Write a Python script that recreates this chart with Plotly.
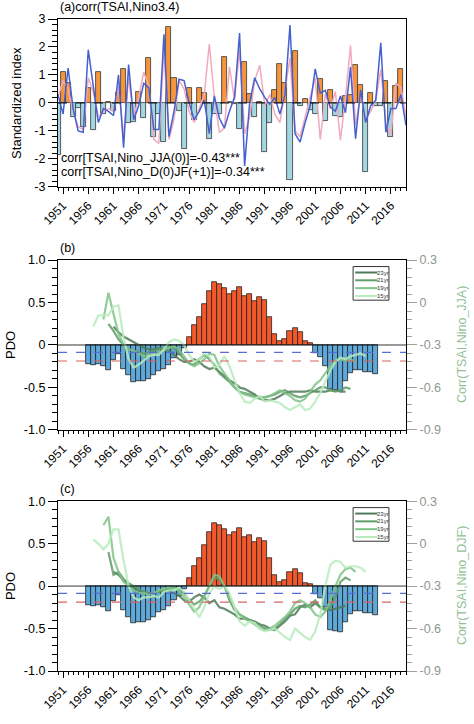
import plotly.graph_objects as go

# ---------------- data ----------------
years_a = list(range(1950, 2019))
tsai = [-1.85, 1.1, 0.72, -0.5, -0.18, -0.87, 0.55, -0.95, 1.12, -0.38,
        0.05, -0.3, 0.35, 1.22, -0.72, -0.68, 0.4, -0.52, 1.6, -1.2,
        -0.38, -1.38, 2.72, 0.9, -0.3, -1.65, 0.55, -0.6, 0.52, 0.35,
        -1.3, -0.38, -0.4, 1.65, 0.04, -0.02, -0.93, 1.45, 0.32, -0.5,
        0.03, -1.75, -0.7, 0.45, 1.38, 0.7, -2.75, 1.84, -0.1, 0.15,
        -0.25, -0.4, 0.85, -0.65, 0.48, -0.45, -0.5, 0.25, 0.3, 1.35,
        0.65, -2.45, 0.35, -0.1, -0.1, 0.8, -1.2, 0.6, 1.22]

years_line = list(range(1950, 2020))
nino_jja = [0.3, -0.4, 1.25, -0.2, -1.0, -1.05, 1.9, 0.6, -0.7, -0.2,
            -0.3, -0.45, 1.0, -1.6, 1.37, -0.6, -0.1, 0.7, 0.55, -0.95,
            -0.95, 2.45, -1.2, -0.3, 0.85, 0.8, 0.0, -0.6, -0.3, 0.1,
            -1.1, 0.25, -0.55, -0.9, -0.3, 0.2, 2.5, -2.25, 0.0, 0.9,
            0.5, 0.2, -0.05, 0.2, -0.4, 0.3, 2.78, -1.1, -1.4, -0.7,
            -0.1, 1.22, 0.35, 0.45, -0.15, -0.3, 0.25, -0.35, 1.28, -1.28,
            0.47, -0.7, -0.1, 0.1, 2.15, -1.05, -0.2, -0.2, 0.3, -0.8]
nino_djf = [0.2, 0.8, 0.5, -0.3, -0.85, -0.95, 0.9, 0.4, -0.5, -0.3,
            -0.2, -0.3, 0.6, -1.2, 0.9, -0.5, 0.2, 1.1, 0.6, -1.3,
            -1.45, 1.9, -1.3, -0.6, 0.8, 0.5, -0.3, -0.7, -0.2, 0.3,
            2.1, 0.2, -1.05, -0.9, 1.3, 0.1, 1.9, -1.1, -0.5, 0.8,
            1.35, -0.1, 0.3, -0.4, -0.7, 0.4, 1.6, -1.0, -1.2, -0.5,
            0.2, 0.9, -1.3, 0.3, -0.2, 0.4, -1.33, 0.2, 2.05, -0.8,
            0.3, -0.6, -0.3, 0.1, 1.2, -0.7, -1.15, 0.7, 0.55, -0.5]

years_pdo = list(range(1956, 2014))
pdo = [-0.22, -0.24, -0.22, -0.25, -0.29, -0.18, -0.11, -0.28, -0.36, -0.44,
       -0.43, -0.43, -0.40, -0.36, -0.31, -0.28, -0.24, -0.16, -0.12, -0.04,
       0.09, 0.24, 0.33, 0.48, 0.63, 0.74, 0.72, 0.67, 0.60, 0.63,
       0.68, 0.58, 0.60, 0.52, 0.56, 0.53, 0.33, 0.13, 0.05, 0.07,
       0.16, 0.20, 0.15, 0.04, 0.02, -0.09, -0.14, -0.25, -0.52, -0.53,
       -0.54, -0.42, -0.33, -0.30, -0.30, -0.32, -0.32, -0.34]

windows = ['23yr', '21yr', '19yr', '15yr']
win_years = {'23yr': list(range(1961, 2008)), '21yr': list(range(1960, 2009)),
             '19yr': list(range(1959, 2010)), '15yr': list(range(1957, 2012))}

corr_jja = {
    '23yr': [-0.17, -0.21, -0.24, -0.26, -0.28, -0.30, -0.32, -0.33, -0.33, -0.32,
             -0.33, -0.34, -0.37, -0.40, -0.42, -0.42, -0.40, -0.42, -0.45, -0.47,
             -0.46, -0.49, -0.52, -0.55, -0.57, -0.60, -0.61, -0.63, -0.65, -0.68,
             -0.69, -0.69, -0.68, -0.66, -0.64, -0.63, -0.63, -0.63, -0.63, -0.62,
             -0.63, -0.63, -0.63, -0.62, -0.62, -0.63, -0.63],
    '21yr': [-0.15, -0.20, -0.26, -0.30, -0.33, -0.34, -0.35, -0.36, -0.35, -0.34,
             -0.33, -0.32, -0.31, -0.32, -0.36, -0.40, -0.43, -0.44, -0.40, -0.37,
             -0.40, -0.44, -0.50, -0.53, -0.56, -0.60, -0.63, -0.64, -0.65, -0.66,
             -0.67, -0.67, -0.66, -0.65, -0.63, -0.62, -0.64, -0.66, -0.67, -0.66,
             -0.64, -0.62, -0.60, -0.60, -0.62, -0.63, -0.62, -0.60, -0.61],
    '19yr': [-0.12, 0.07, -0.08, -0.22, -0.30, -0.33, -0.34, -0.36, -0.38, -0.37,
             -0.36, -0.35, -0.34, -0.32, -0.31, -0.33, -0.38, -0.43, -0.45, -0.43,
             -0.40, -0.36, -0.37, -0.45, -0.50, -0.55, -0.60, -0.63, -0.65, -0.66,
             -0.67, -0.68, -0.67, -0.66, -0.64, -0.62, -0.64, -0.66, -0.69, -0.70,
             -0.68, -0.63, -0.58, -0.55, -0.50, -0.45, -0.41, -0.40, -0.41, -0.40,
             -0.42],
    '15yr': [-0.17, -0.09, -0.09, -0.09, -0.03, -0.02, -0.25, -0.40, -0.46, -0.44,
             -0.41, -0.38, -0.37, -0.37, -0.33, -0.28, -0.26, -0.27, -0.30, -0.37,
             -0.42, -0.40, -0.36, -0.38, -0.46, -0.44, -0.38, -0.45, -0.55, -0.64,
             -0.70, -0.71, -0.68, -0.66, -0.70, -0.69, -0.70, -0.71, -0.74, -0.76,
             -0.74, -0.72, -0.76, -0.75, -0.70, -0.64, -0.56, -0.48, -0.42, -0.39,
             -0.40, -0.38, -0.37, -0.36, -0.38],
}
corr_djf = {
    '23yr': [-0.20, -0.22, -0.26, -0.29, -0.31, -0.33, -0.34, -0.35, -0.35, -0.34,
             -0.33, -0.33, -0.35, -0.37, -0.40, -0.41, -0.38, -0.36, -0.38, -0.42,
             -0.40, -0.45, -0.46, -0.48, -0.50, -0.53, -0.53, -0.54, -0.55, -0.57,
             -0.58, -0.60, -0.61, -0.58, -0.55, -0.51, -0.50, -0.45, -0.43, -0.45,
             -0.42, -0.45, -0.46, -0.47, -0.46, -0.45, -0.44],
    '21yr': [-0.06, -0.22, -0.20, -0.25, -0.28, -0.30, -0.32, -0.34, -0.35, -0.35,
             -0.34, -0.33, -0.32, -0.31, -0.32, -0.35, -0.40, -0.43, -0.41, -0.37,
             -0.30, -0.24, -0.25, -0.30, -0.40, -0.47, -0.50, -0.52, -0.54, -0.56,
             -0.58, -0.60, -0.61, -0.60, -0.57, -0.53, -0.50, -0.46, -0.44, -0.45,
             -0.43, -0.40, -0.45, -0.47, -0.45, -0.38, -0.27, -0.24, -0.26],
    '19yr': [0.13, 0.19, -0.10, -0.20, -0.27, -0.30, -0.33, -0.35, -0.35, -0.36,
             -0.35, -0.33, -0.32, -0.31, -0.32, -0.33, -0.38, -0.43, -0.48, -0.45,
             -0.38, -0.30, -0.22, -0.23, -0.30, -0.38, -0.45, -0.50, -0.53, -0.55,
             -0.57, -0.60, -0.61, -0.60, -0.58, -0.55, -0.52, -0.48, -0.42, -0.40,
             -0.42, -0.45, -0.50, -0.52, -0.48, -0.40, -0.30, -0.22, -0.18, -0.17,
             -0.20],
    '15yr': [0.03, 0.0, -0.04, 0.0, 0.10, 0.10, -0.12, -0.30, -0.38, -0.40,
             -0.38, -0.38, -0.37, -0.38, -0.34, -0.33, -0.33, -0.31, -0.34, -0.40,
             -0.46, -0.52, -0.45, -0.35, -0.30, -0.32, -0.30, -0.35, -0.45, -0.55,
             -0.58, -0.55, -0.56, -0.60, -0.62, -0.61, -0.60, -0.63, -0.66, -0.68,
             -0.60, -0.63, -0.66, -0.68, -0.62, -0.50, -0.30, -0.15, -0.12, -0.13,
             -0.17, -0.16, -0.16, -0.17, -0.20],
}

sig90 = -0.352
sig95 = -0.413

x_ticks = list(range(1951, 2017, 5))

# ---------------- style ----------------
FONT = 'Liberation Sans, Arial, sans-serif'
win_colors = {'23yr': '#4f7a58', '21yr': '#5f9c69', '19yr': '#7fc487', '15yr': '#b8ecbd'}

fig = go.Figure()

# panel (a)
fig.add_trace(go.Bar(x=years_a, y=tsai, width=1.0,
                     marker=dict(color=['#f5963f' if v > 0 else '#a3d7e2' for v in tsai],
                                 line=dict(color='#333333', width=0.8)),
                     xaxis='x', yaxis='y', showlegend=False))
fig.add_trace(go.Scatter(x=years_line, y=nino_djf, mode='lines',
                         line=dict(color='#f2aabd', width=1.5),
                         xaxis='x', yaxis='y', showlegend=False))
fig.add_trace(go.Scatter(x=years_line, y=nino_jja, mode='lines',
                         line=dict(color='#4560d0', width=1.5),
                         xaxis='x', yaxis='y', showlegend=False))

# panels (b) and (c)
panels = [('x2', 'y2', 'y3', corr_jja), ('x3', 'y4', 'y5', corr_djf)]
for xa, ya, ya_r, corr in panels:
    fig.add_trace(go.Bar(x=years_pdo, y=pdo, width=1.0,
                         marker=dict(color=['#f2582a' if v > 0 else '#5ea9d9' for v in pdo],
                                     line=dict(color='#222222', width=0.8)),
                         xaxis=xa, yaxis=ya, showlegend=False))
    for w in windows:
        fig.add_trace(go.Scatter(x=win_years[w], y=corr[w], mode='lines', name=w,
                                 line=dict(color=win_colors[w], width=2.2),
                                 opacity=0.85, xaxis=xa, yaxis=ya_r, showlegend=False))

# ---------------- layout ----------------
dom_a = [0.7425, 1.0]
dom_b = [0.3698, 0.6302]
dom_c = [0.0, 0.2605]

xax = dict(range=[1950, 2019], tickvals=x_ticks, ticktext=[str(t) for t in x_ticks],
           tickangle=-45, ticks='outside', ticklen=6, tickwidth=1, tickcolor='black',
           minor=dict(dtick=1, tick0=1951, ticks='outside', ticklen=3, tickcolor='black'),
           showline=True, linecolor='black', linewidth=1.2, mirror=True,
           showgrid=False, zeroline=False, tickfont=dict(size=12, color='black'))


def yax(domain, anchor, rng, vals, texts, minor_dt):
    return dict(domain=domain, anchor=anchor, range=rng, tickvals=vals, ticktext=texts,
                ticks='outside', ticklen=9, tickcolor='black',
                minor=dict(dtick=minor_dt, tick0=0, ticks='outside', ticklen=5,
                           tickcolor='black'),
                showline=True, linecolor='black', linewidth=1.2, mirror=True,
                showgrid=False, zeroline=False, tickfont=dict(size=12.5, color='black'))


def yax_r(overl, anchor):
    return dict(overlaying=overl, anchor=anchor, side='right', range=[-0.9, 0.3],
                tickvals=[-0.9, -0.6, -0.3, 0, 0.3], ticktext=['-0.9', '-0.6', '-0.3', '0', '0.3'],
                ticks='outside', ticklen=10, tickcolor='#9aa39a',
                minor=dict(dtick=0.06, tick0=0.3, ticks='outside', ticklen=5, tickcolor='#9aa39a'),
                showline=False, showgrid=False, zeroline=False,
                tickfont=dict(size=12.5, color='#8e978e'))


pdo_vals = [-1, -0.5, 0, 0.5, 1]
pdo_text = ['-1.0', '-0.5', '0', '0.5', '1.0']

fig.update_layout(
    width=474, height=724,
    margin=dict(l=58, r=68, t=19, b=37),
    paper_bgcolor='white', plot_bgcolor='white',
    font=dict(family=FONT, color='black'),
    bargap=0, showlegend=False,
    xaxis=dict(xax, anchor='y'),
    xaxis2=dict(xax, anchor='y2'),
    xaxis3=dict(xax, anchor='y4'),
    yaxis=yax(dom_a, 'x', [-3, 3], [-3, -2, -1, 0, 1, 2, 3],
              ['-3', '-2', '-1', '0', '1', '2', '3'], 0.2),
    yaxis2=yax(dom_b, 'x2', [-1, 1], pdo_vals, pdo_text, 0.1),
    yaxis3=yax_r('y2', 'x2'),
    yaxis4=yax(dom_c, 'x3', [-1, 1], pdo_vals, pdo_text, 0.1),
    yaxis5=yax_r('y4', 'x3'),
)

shapes = [
    dict(type='line', xref='x domain', yref='y', x0=0, x1=1, y0=0, y1=0,
         line=dict(color='black', width=1, dash='dash')),
]
annots = [
    dict(text='(a)corr(TSAI,Nino3.4)', xref='x domain', yref='y domain', x=0, y=1.02,
         xanchor='left', yanchor='bottom', showarrow=False, font=dict(size=12.5)),
    dict(text='Standardized index', xref='paper', yref='y domain', x=-0.118, y=0.5,
         xanchor='center', yanchor='middle', textangle=-90, showarrow=False,
         font=dict(size=13)),
    dict(text='corr[TSAI,Nino_JJA(0)]=-0.43***', xref='x domain', yref='y domain',
         x=0.004, y=0.175, xanchor='left', yanchor='middle', showarrow=False,
         font=dict(size=12.5)),
    dict(text='corr[TSAI,Nino_D(0)JF(+1)]=-0.34***', xref='x domain', yref='y domain',
         x=0.004, y=0.09, xanchor='left', yanchor='middle', showarrow=False,
         font=dict(size=12.5)),
]

# legend box position inside each lower panel (axis-domain fractions)
leg_x0, leg_x1, leg_line_end = 0.848, 0.951, 0.918
leg_top, leg_bot = 0.962, 0.764
leg_rows = [0.927, 0.881, 0.835, 0.789]

right_titles = ['Corr(TSAI,Nino_JJA)', 'Corr(TSAI,Nino_DJF)']
for (xa, ya, ya_r, corr), lab, rt in zip(panels, ['(b)', '(c)'], right_titles):
    xd, yd = xa + ' domain', ya + ' domain'
    shapes.append(dict(type='line', xref=xd, yref=ya, x0=0, x1=1, y0=0, y1=0,
                       line=dict(color='black', width=0.8)))
    shapes.append(dict(type='line', xref=xd, yref=ya_r, x0=0, x1=1,
                       y0=sig90, y1=sig90, line=dict(color='#5a6cd6', width=1.2, dash='dash')))
    shapes.append(dict(type='line', xref=xd, yref=ya_r, x0=0, x1=1,
                       y0=sig95, y1=sig95, line=dict(color='#d76464', width=1.2, dash='dash')))
    shapes.append(dict(type='rect', xref=xd, yref=yd, x0=leg_x0, x1=leg_x1,
                       y0=leg_bot, y1=leg_top, fillcolor='white',
                       line=dict(color='#333333', width=1)))
    for w, ry in zip(windows, leg_rows):
        shapes.append(dict(type='line', xref=xd, yref=yd, x0=leg_x0 + 0.006,
                           x1=leg_line_end, y0=ry, y1=ry,
                           line=dict(color=win_colors[w], width=2)))
        annots.append(dict(text=w, xref=xd, yref=yd, x=leg_line_end - 0.004, y=ry,
                           xanchor='left', yanchor='middle', showarrow=False,
                           font=dict(size=6, color='#333333'), borderpad=0))
    annots.append(dict(text=lab, xref=xd, yref=yd, x=0, y=1.02, xanchor='left',
                       yanchor='bottom', showarrow=False, font=dict(size=12.5)))
    annots.append(dict(text='PDO', xref='paper', yref=yd, x=-0.138, y=0.5,
                       xanchor='center', yanchor='middle', textangle=-90,
                       showarrow=False, font=dict(size=13)))
    annots.append(dict(text=rt, xref='paper', yref=yd, x=1.161, y=0.5,
                       xanchor='center', yanchor='middle', textangle=-90,
                       showarrow=False, font=dict(size=12.5, color='#94bf94')))

fig.update_layout(shapes=shapes, annotations=annots)

# the page's default body margin would push the 474x724 figure out of the window
fig.write_html("out.html", config={'displayModeBar': False},
               post_script="document.body.style.margin='0';")
